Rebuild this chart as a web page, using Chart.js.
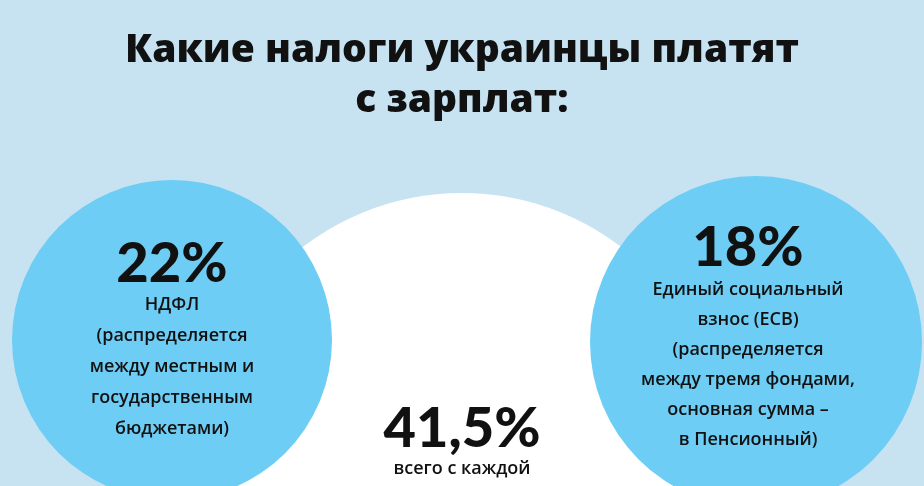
<!DOCTYPE html>
<html><head><meta charset="utf-8">
<script src="https://cdn.jsdelivr.net/npm/chart.js@4"></script>
<style>
html,body{margin:0;padding:0;background:#c7e3f2;}
#wrap{width:924px;height:486px;}
</style></head>
<body><div id="wrap"><canvas id="c"></canvas></div>
<script>
var titleLines = ["Какие налоги украинцы платят", "с зарплат:"];
var taxLabels = ["22%", "18%", "41,5%"];
var taxNotes = [
  ["НДФЛ", "(распределяется", "между местным и", "государственным", "бюджетами)"],
  ["Единый социальный", "взнос (ЕСВ)", "(распределяется", "между тремя фондами,", "основная сумма –", "в Пенсионный)"],
  ["всего с каждой"]
];
var blueX = [172, 756], blueY = [340, 342], blueR = [160, 166];
var whiteX = [462], whiteY = [455], whiteR = [262];

var textPlugin = {
  id: 'texts',
  afterDatasetsDraw: function(chart) {
    var ctx = chart.ctx;
    ctx.save();
    ctx.fillStyle = '#111';
    ctx.textAlign = 'center';
    ctx.textBaseline = 'alphabetic';
    ctx.font = '800 39px "Open Sans"';
    ctx.fillText(titleLines[0], 462, 62);
    ctx.fillText(titleLines[1], 462, 112);
    var heads = [[172, 282], [748, 266], [462, 447]];
    var first = [310, 295, 474];
    var step = [31, 30, 0];
    for (var i = 0; i < 3; i++) {
      ctx.font = '900 56px Lato';
      ctx.fillText(taxLabels[i], heads[i][0], heads[i][1]);
      ctx.font = '600 18px "Open Sans"';
      for (var j = 0; j < taxNotes[i].length; j++) {
        ctx.fillText(taxNotes[i][j], heads[i][0], first[i] + j * step[i]);
      }
    }
    ctx.restore();
  }
};

function pts(xs, ys) { return xs.map(function(x, i) { return {x: x, y: ys[i]}; }); }

new Chart(document.getElementById('c'), {
  type: 'scatter',
  data: {
    datasets: [
      {data: pts(blueX, blueY), pointRadius: blueR, pointHoverRadius: blueR, backgroundColor: '#6dcdf4', borderWidth: 0, clip: false, order: 1},
      {data: pts(whiteX, whiteY), pointRadius: whiteR, pointHoverRadius: whiteR, backgroundColor: '#ffffff', borderWidth: 0, clip: false, order: 2}
    ]
  },
  options: {
    responsive: true,
    maintainAspectRatio: false,
    animation: false,
    events: [],
    layout: {padding: 0, autoPadding: false},
    plugins: {legend: {display: false}, tooltip: {enabled: false}},
    scales: {
      x: {type: 'linear', min: 0, max: 924, display: false},
      y: {type: 'linear', min: 0, max: 486, reverse: true, display: false}
    }
  },
  plugins: [textPlugin]
});
</script></body></html>
